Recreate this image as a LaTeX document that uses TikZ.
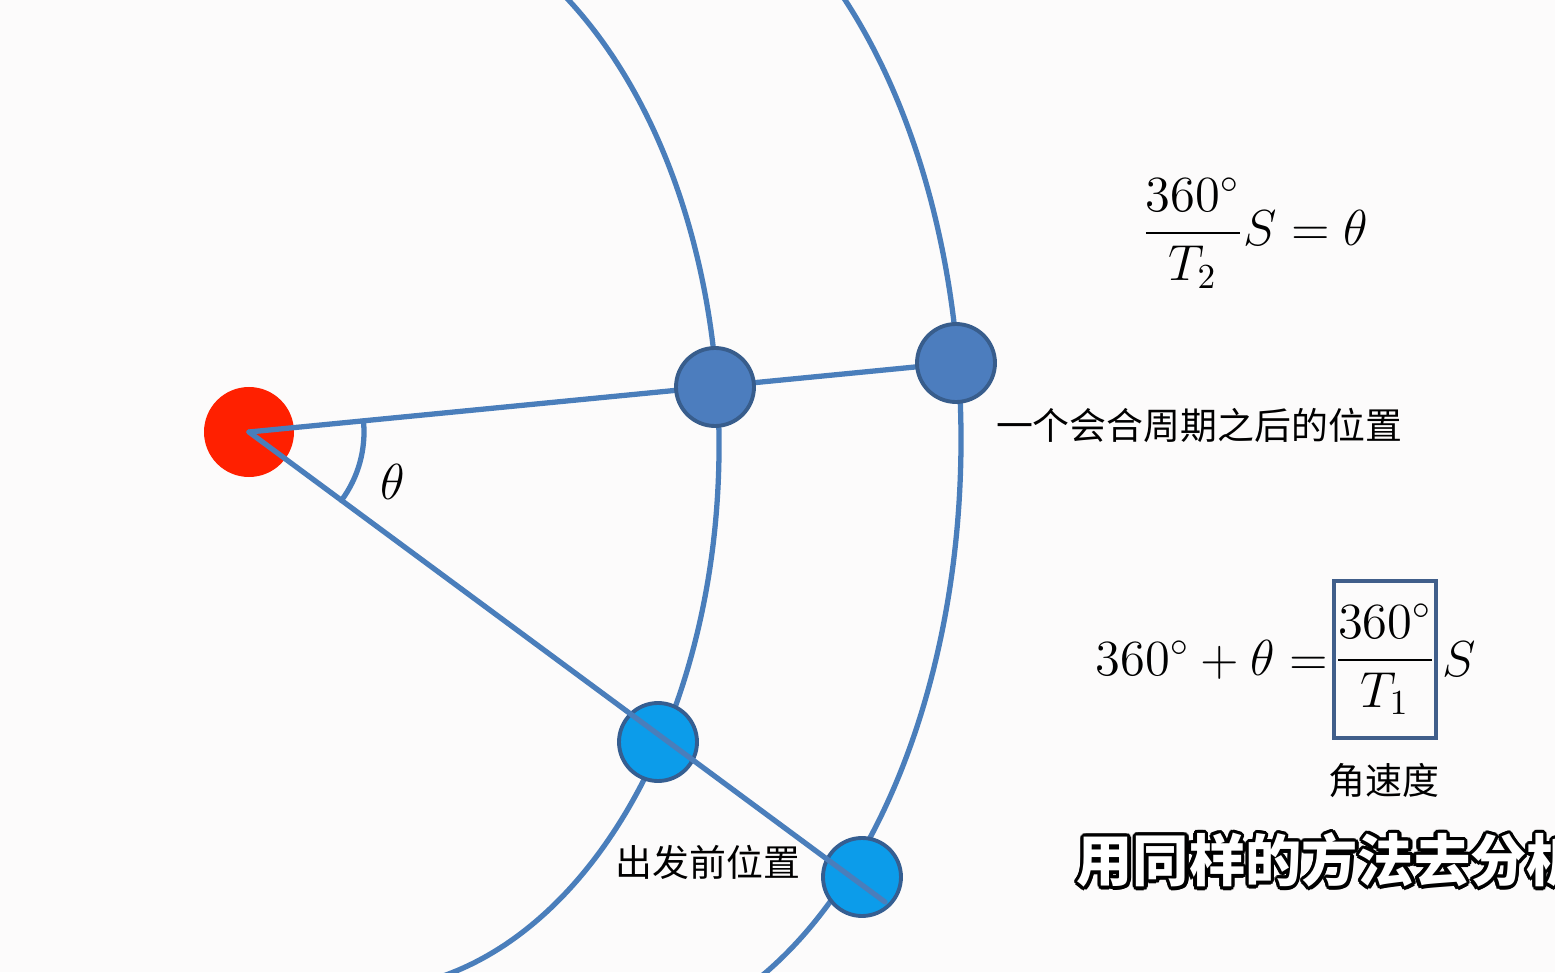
\documentclass[tikz,border=0pt]{standalone}
\usepackage{fontspec}
\usepackage{amsmath}
\usepackage{xcolor}
\usetikzlibrary{positioning, backgrounds}
\newfontfamily\cjk{Noto Sans CJK SC}
\definecolor{paper}{RGB}{252,251,251}
\definecolor{orbitblue}{RGB}{74,126,187}
\definecolor{laterfill}{RGB}{76,125,190}
\definecolor{laterrim}{RGB}{56,93,140}
\definecolor{earlyfill}{RGB}{12,156,234}
\definecolor{earlyrim}{RGB}{53,94,145}
\definecolor{sunred}{RGB}{255,32,0}
\definecolor{boxrim}{RGB}{64,94,138}

\begin{document}
\begin{tikzpicture}[body/.style = {circle, inner sep=0pt, minimum size=7.8mm, line width=1.1pt},
      later/.style = {body, draw=laterrim, fill=laterfill},
      early/.style = {body, draw=earlyrim, fill=earlyfill},
      sun/.style = {circle, inner sep=0pt, minimum size=9mm, fill=sunred},
      ray/.style = {draw=orbitblue, line width=1.5pt, line cap=round},
      cjktext/.style = {font=\cjk\fontsize{10.5}{12}\selectfont},
      eq/.style = {inner sep=1pt, font=\fontsize{14}{17}\selectfont},
      eqbox/.style = {eq, draw=boxrim, line width=1.2pt, inner sep=0pt, minimum width=10.2mm, minimum height=15.7mm},
      subtitle/.style = {inner sep=0pt, anchor=west, font=\cjk\bfseries\fontsize{16}{18}\selectfont}]
      \useasboundingbox (0,0) rectangle (15.55,9.72);

      % orbits
      \draw[ray] (3.63,5.27) ++(56:3.56 and 5.45) arc[start angle=56, end angle=-77, x radius=3.56, y radius=5.45];
      \draw[ray] (5.99,5.32) ++(49:3.62 and 6.00) arc[start angle=49, end angle=-64, x radius=3.62, y radius=6.00];

      \node[later] (2) at (7.15,5.85) {};
      \node[later] (3) at (9.56,6.09) {};
      \node[early] (4) at (6.58,2.30) {};
      \node[early] (5) at (8.62,0.95) {};
      \coordinate (tail) at (8.85,0.70);

      \begin{scope}[on background layer]
        \fill[paper] (0,0) rectangle (15.55,9.72);
        \node[sun] (1) at (2.49,5.40) {};
        \draw[ray] (1.center) -- (3.center);
      \end{scope}

      \draw[ray] (1.center) -- (tail);
      \draw[ray] (1.center) ++(5.5:1.15) arc[start angle=5.5, end angle=-36.5, radius=1.15];
      \node[eq] (th) at (3.93,4.90) {$\theta$};

      \node[cjktext] (now) at (11.99,5.47) {一个会合周期之后的位置};
      \node[cjktext] (old) at (7.08,1.10) {出发前位置};

      \node[eq] (f2) at (12.55,7.39) {$\dfrac{360^\circ}{T_2}S=\theta$};
      \node[eqbox] (w1) at (13.85,3.125) {$\dfrac{360^\circ}{T_1}$};
      \node[eq, left=0pt of w1] (lhs) {$360^\circ+\theta=$};
      \node[eq, right=0pt of w1] (s1) {$S$};
      \node[cjktext] (jsd) at (13.84,1.91) {角速度};

      \foreach \a in {0,22.5,...,337.5}
        \node[subtitle, text=black] (sub\a) at ([shift={(\a:0.034)}]10.76,1.12) {用同样的方法去分析};
      \node[subtitle, text=white] (sub) at (10.76,1.12) {用同样的方法去分析};
\end{tikzpicture}
\end{document}
